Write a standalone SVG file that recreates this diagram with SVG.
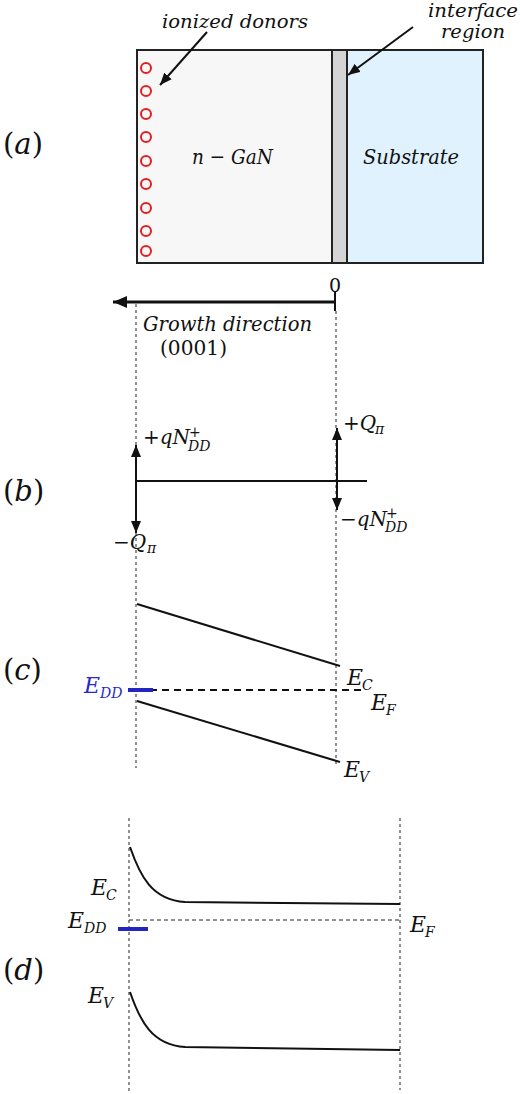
<svg xmlns="http://www.w3.org/2000/svg" width="520" height="1094" viewBox="0 0 520 1094">
<style>
text{font-family:"DejaVu Serif","Liberation Serif",serif;fill:#111;}
.it{font-style:italic;}
.up{font-style:normal;}
.lbl{font-size:29px;}
.m{font-size:20px;font-style:italic;}
.e{font-size:22px;font-style:italic;}
.s{font-size:14px;font-style:italic;}
.blue{fill:#2a2ac8;}
.dash{stroke:#222;stroke-width:1;stroke-dasharray:3,3;fill:none;}
.ln{stroke:#111;stroke-width:2;fill:none;}
</style>
<defs>
<marker id="ah" markerUnits="userSpaceOnUse" markerWidth="12" markerHeight="10" refX="12" refY="5" orient="auto-start-reverse" viewBox="0 0 12 10">
<path d="M0,0 L12,5 L0,10 z" fill="#111"/>
</marker>
<marker id="ah2" markerUnits="userSpaceOnUse" markerWidth="14" markerHeight="12" refX="14" refY="6" orient="auto-start-reverse" viewBox="0 0 14 12">
<path d="M0,0 L14,6 L0,12 z" fill="#111"/>
</marker>
</defs>

<!-- panel labels -->
<g id="labels">
<text class="lbl" x="3" y="154"><tspan class="up">(</tspan><tspan class="it">a</tspan><tspan class="up">)</tspan></text>
<text class="lbl" x="3" y="501"><tspan class="up">(</tspan><tspan class="it">b</tspan><tspan class="up">)</tspan></text>
<text class="lbl" x="3" y="680"><tspan class="up">(</tspan><tspan class="it">c</tspan><tspan class="up">)</tspan></text>
<text class="lbl" x="3" y="980"><tspan class="up">(</tspan><tspan class="it">d</tspan><tspan class="up">)</tspan></text>
</g>

<!-- (a) structure -->
<g id="ngan">
<rect x="137" y="50" width="195" height="213" fill="#f7f7f7" stroke="#222" stroke-width="2"/>
<text class="it" x="192" y="164" font-size="21" textLength="81" lengthAdjust="spacingAndGlyphs">n − GaN</text>
</g>
<g id="interface">
<rect x="332" y="50" width="15" height="213" fill="#d4d4d4" stroke="#222" stroke-width="2"/>
</g>
<g id="substrate">
<rect x="347" y="50" width="136" height="213" fill="#dff2fd" stroke="#222" stroke-width="2"/>
<text class="it" x="363" y="164" font-size="21" textLength="96" lengthAdjust="spacingAndGlyphs">Substrate</text>
</g>
<g id="donors" fill="none" stroke="#e02020" stroke-width="2">
<circle cx="146" cy="68" r="5"/>
<circle cx="146" cy="91" r="5"/>
<circle cx="146" cy="114" r="5"/>
<circle cx="146" cy="137" r="5"/>
<circle cx="146" cy="161" r="5"/>
<circle cx="146" cy="184" r="5"/>
<circle cx="146" cy="208" r="5"/>
<circle cx="146" cy="231" r="5"/>
<circle cx="146" cy="251" r="5"/>
</g>
<g id="donor-label">
<text class="it" x="162" y="28" font-size="19" textLength="146" lengthAdjust="spacingAndGlyphs">ionized donors</text>
</g>
<g id="interface-label">
<text class="it" x="428" y="17" font-size="18" textLength="90" lengthAdjust="spacingAndGlyphs">interface</text>
<text class="it" x="441" y="38" font-size="18" textLength="64" lengthAdjust="spacingAndGlyphs">region</text>
</g>

<!-- connectors -->
<g id="connectors">
<line x1="207" y1="32" x2="160" y2="85" class="ln" marker-end="url(#ah)"/>
<line x1="413" y1="27" x2="348" y2="75" class="ln" marker-end="url(#ah)"/>
<!-- growth direction -->
<line x1="335" y1="302" x2="113" y2="302" stroke="#111" stroke-width="3" marker-end="url(#ah2)"/>
<line x1="335" y1="292" x2="335" y2="311" stroke="#111" stroke-width="2"/>
<!-- dashed guides b,c -->
<line x1="136" y1="304" x2="136" y2="768" class="dash"/>
<line x1="336" y1="311" x2="336" y2="764" class="dash"/>
<!-- (b) charges -->
<line x1="136" y1="481" x2="367" y2="481" class="ln"/>
<line x1="136" y1="481" x2="136" y2="445" class="ln" marker-end="url(#ah)"/>
<line x1="136" y1="481" x2="136" y2="533" class="ln" marker-end="url(#ah)"/>
<line x1="337" y1="428" x2="337" y2="510" class="ln" marker-start="url(#ah)" marker-end="url(#ah)"/>
<!-- (c) bands -->
<line x1="137" y1="604" x2="340" y2="666" class="ln"/>
<line x1="137" y1="701" x2="340" y2="762" class="ln"/>
<line x1="150" y1="690" x2="365" y2="690" stroke="#111" stroke-width="2" stroke-dasharray="7,5"/>
<line x1="128" y1="690" x2="153" y2="690" stroke="#2424c0" stroke-width="4"/>
<!-- (d) bands -->
<line x1="129" y1="818" x2="129" y2="1094" class="dash"/>
<line x1="400" y1="818" x2="400" y2="1090" class="dash"/>
<path d="M130,847 C140,876 152,900 185,902 L400,904" class="ln"/>
<path d="M130,992 C140,1021 152,1045 185,1047 L400,1050" class="ln"/>
<line x1="129" y1="920" x2="400" y2="920" stroke="#222" stroke-width="1" stroke-dasharray="4,3"/>
<line x1="118" y1="929" x2="148" y2="929" stroke="#2424c0" stroke-width="4"/>
</g>

<!-- texts for growth -->
<g id="growth-label">
<text class="up" x="335" y="292" font-size="19" text-anchor="middle">0</text>
<text class="it" x="143" y="331" font-size="20" textLength="169" lengthAdjust="spacingAndGlyphs">Growth direction</text>
<text class="up" x="160" y="355" font-size="20" textLength="67" lengthAdjust="spacingAndGlyphs">(0001)</text>
</g>

<!-- (b) labels -->
<g id="b-labels">
<text class="m" x="143" y="444">+qN</text>
<text class="s" x="189" y="437" font-style="normal">+</text>
<text class="s" x="188" y="451">DD</text>
<text class="m" x="343" y="430">+Q</text>
<text class="s" x="375" y="434">π</text>
<text class="m" x="340" y="526">−qN</text>
<text class="s" x="386" y="518" font-style="normal">+</text>
<text class="s" x="385" y="532">DD</text>
<text class="m" x="113" y="549">−Q</text>
<text class="s" x="147" y="553">π</text>
</g>

<!-- (c) labels -->
<g id="c-labels">
<text class="e blue" x="84" y="693">E</text>
<text class="s blue" x="100" y="698">DD</text>
<text class="e" x="347" y="685">E</text>
<text class="s" x="362" y="690">C</text>
<text class="e" x="371" y="710">E</text>
<text class="s" x="386" y="715">F</text>
<text class="e" x="344" y="777">E</text>
<text class="s" x="359" y="782">V</text>
</g>

<!-- (d) labels -->
<g id="d-labels">
<text class="e" x="91" y="895">E</text>
<text class="s" x="106" y="900">C</text>
<text class="e" x="68" y="928">E</text>
<text class="s" x="84" y="933">DD</text>
<text class="e" x="410" y="932">E</text>
<text class="s" x="425" y="937">F</text>
<text class="e" x="88" y="1003">E</text>
<text class="s" x="103" y="1008">V</text>
</g>
</svg>
